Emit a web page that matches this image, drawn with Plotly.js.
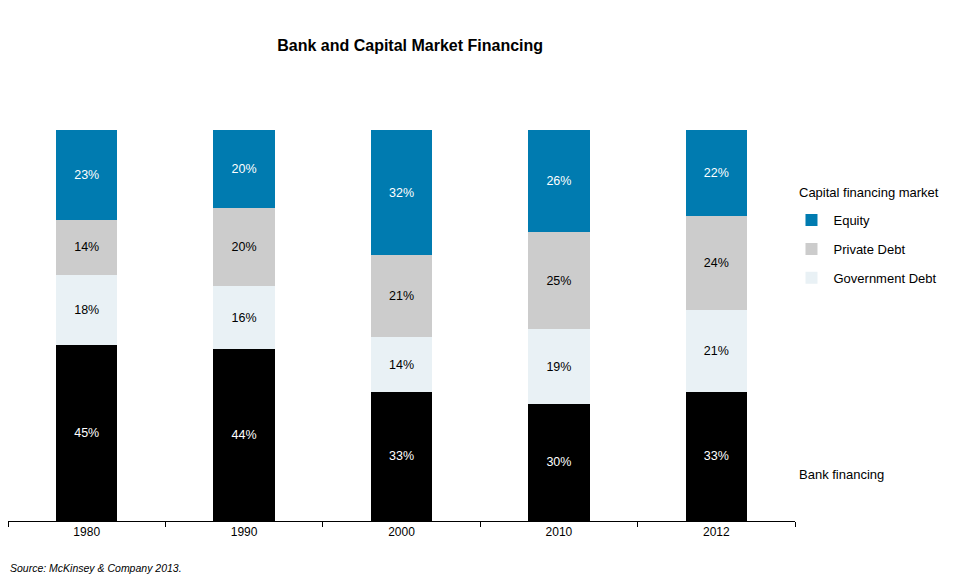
<!DOCTYPE html>
<html>
<head>
<meta charset="utf-8">
<script src="https://cdn.plot.ly/plotly-3.0.1.min.js"></script>
<style>
  html, body { margin: 0; padding: 0; background: #fff; }
  #chart { width: 955px; height: 587px; }
</style>
</head>
<body>
<div id="chart"></div>
<script>
  // years on the x axis
  let years = ["1980", "1990", "2000", "2010", "2012"];

  // share of financing, percent
  let bankFinancing = [45, 44, 33, 30, 33];
  let governmentDebt = [18, 16, 14, 19, 21];
  let privateDebt = [14, 20, 21, 25, 24];
  let equity = [23, 20, 32, 26, 22];

  function pct(values) {
    return values.map((v) => v + "%");
  }

  let font = "Liberation Sans, Arial, sans-serif";

  function barTrace(name, values, color, textColor, rank, showInLegend) {
    return {
      type: "bar",
      name: name,
      x: years,
      y: values,
      text: pct(values),
      textposition: "inside",
      insidetextanchor: "middle",
      textangle: 0,
      textfont: { family: font, size: 12.5, color: textColor },
      marker: {
        color: color,
        line: { width: 0 },
      },
      legendgroup: "g" + rank,
      legendrank: rank,
      showlegend: showInLegend,
      hoverinfo: "skip",
    };
  }

  let traces = [
    barTrace("Bank financing", bankFinancing, "#000000", "#ffffff", 4, false),
    barTrace("Government Debt", governmentDebt, "#e9f1f5", "#000000", 3, true),
    barTrace("Private Debt", privateDebt, "#cccccc", "#000000", 2, true),
    barTrace("Equity", equity, "#007bb0", "#ffffff", 1, true),
  ];

  let layout = {
    width: 955,
    height: 587,
    margin: { l: 8, r: 160, t: 130, b: 66 },
    paper_bgcolor: "#ffffff",
    plot_bgcolor: "#ffffff",
    font: { family: font, size: 12, color: "#000000" },
    barmode: "stack",
    bargap: 0.61,
    title: {
      text: "<b>Bank and Capital Market Financing</b>",
      font: { family: font, size: 16, color: "#000000" },
      x: 0.511,
      xref: "paper",
      xanchor: "center",
      y: 0.923,
      yanchor: "middle",
    },
    xaxis: {
      type: "category",
      showline: true,
      linecolor: "#000000",
      linewidth: 1,
      ticks: "outside",
      tickson: "boundaries",
      ticklen: 5,
      tickcolor: "#000000",
      tickfont: { family: font, size: 12, color: "#000000" },
      showgrid: false,
      zeroline: false,
      fixedrange: true,
    },
    yaxis: {
      range: [0, 100],
      visible: false,
      showgrid: false,
      zeroline: false,
      fixedrange: true,
    },
    showlegend: true,
    legend: {
      x: 0.993,
      xanchor: "left",
      y: 0.808,
      yanchor: "top",
      traceorder: "grouped",
      tracegroupgap: 9,
      itemwidth: 34,
      font: { family: font, size: 13, color: "#000000" },
      bgcolor: "rgba(0,0,0,0)",
      itemclick: false,
      itemdoubleclick: false,
    },
    annotations: [
      {
        text: "Capital financing market",
        xref: "paper",
        yref: "paper",
        x: 1.002,
        y: 0.841,
        xanchor: "left",
        yanchor: "middle",
        showarrow: false,
        font: { family: font, size: 13, color: "#000000" },
      },
      {
        text: "Bank financing",
        xref: "paper",
        yref: "paper",
        x: 1.002,
        y: 0.12,
        xanchor: "left",
        yanchor: "middle",
        showarrow: false,
        font: { family: font, size: 13, color: "#000000" },
      },
      {
        text: "<i>Source: McKinsey & Company 2013.</i>",
        xref: "paper",
        yref: "paper",
        x: 0,
        y: -0.12,
        xanchor: "left",
        yanchor: "middle",
        showarrow: false,
        font: { family: font, size: 10.5, color: "#000000" },
      },
    ],
  };

  Plotly.newPlot("chart", traces, layout, { displayModeBar: false, displaylogo: false });
</script>
</body>
</html>
